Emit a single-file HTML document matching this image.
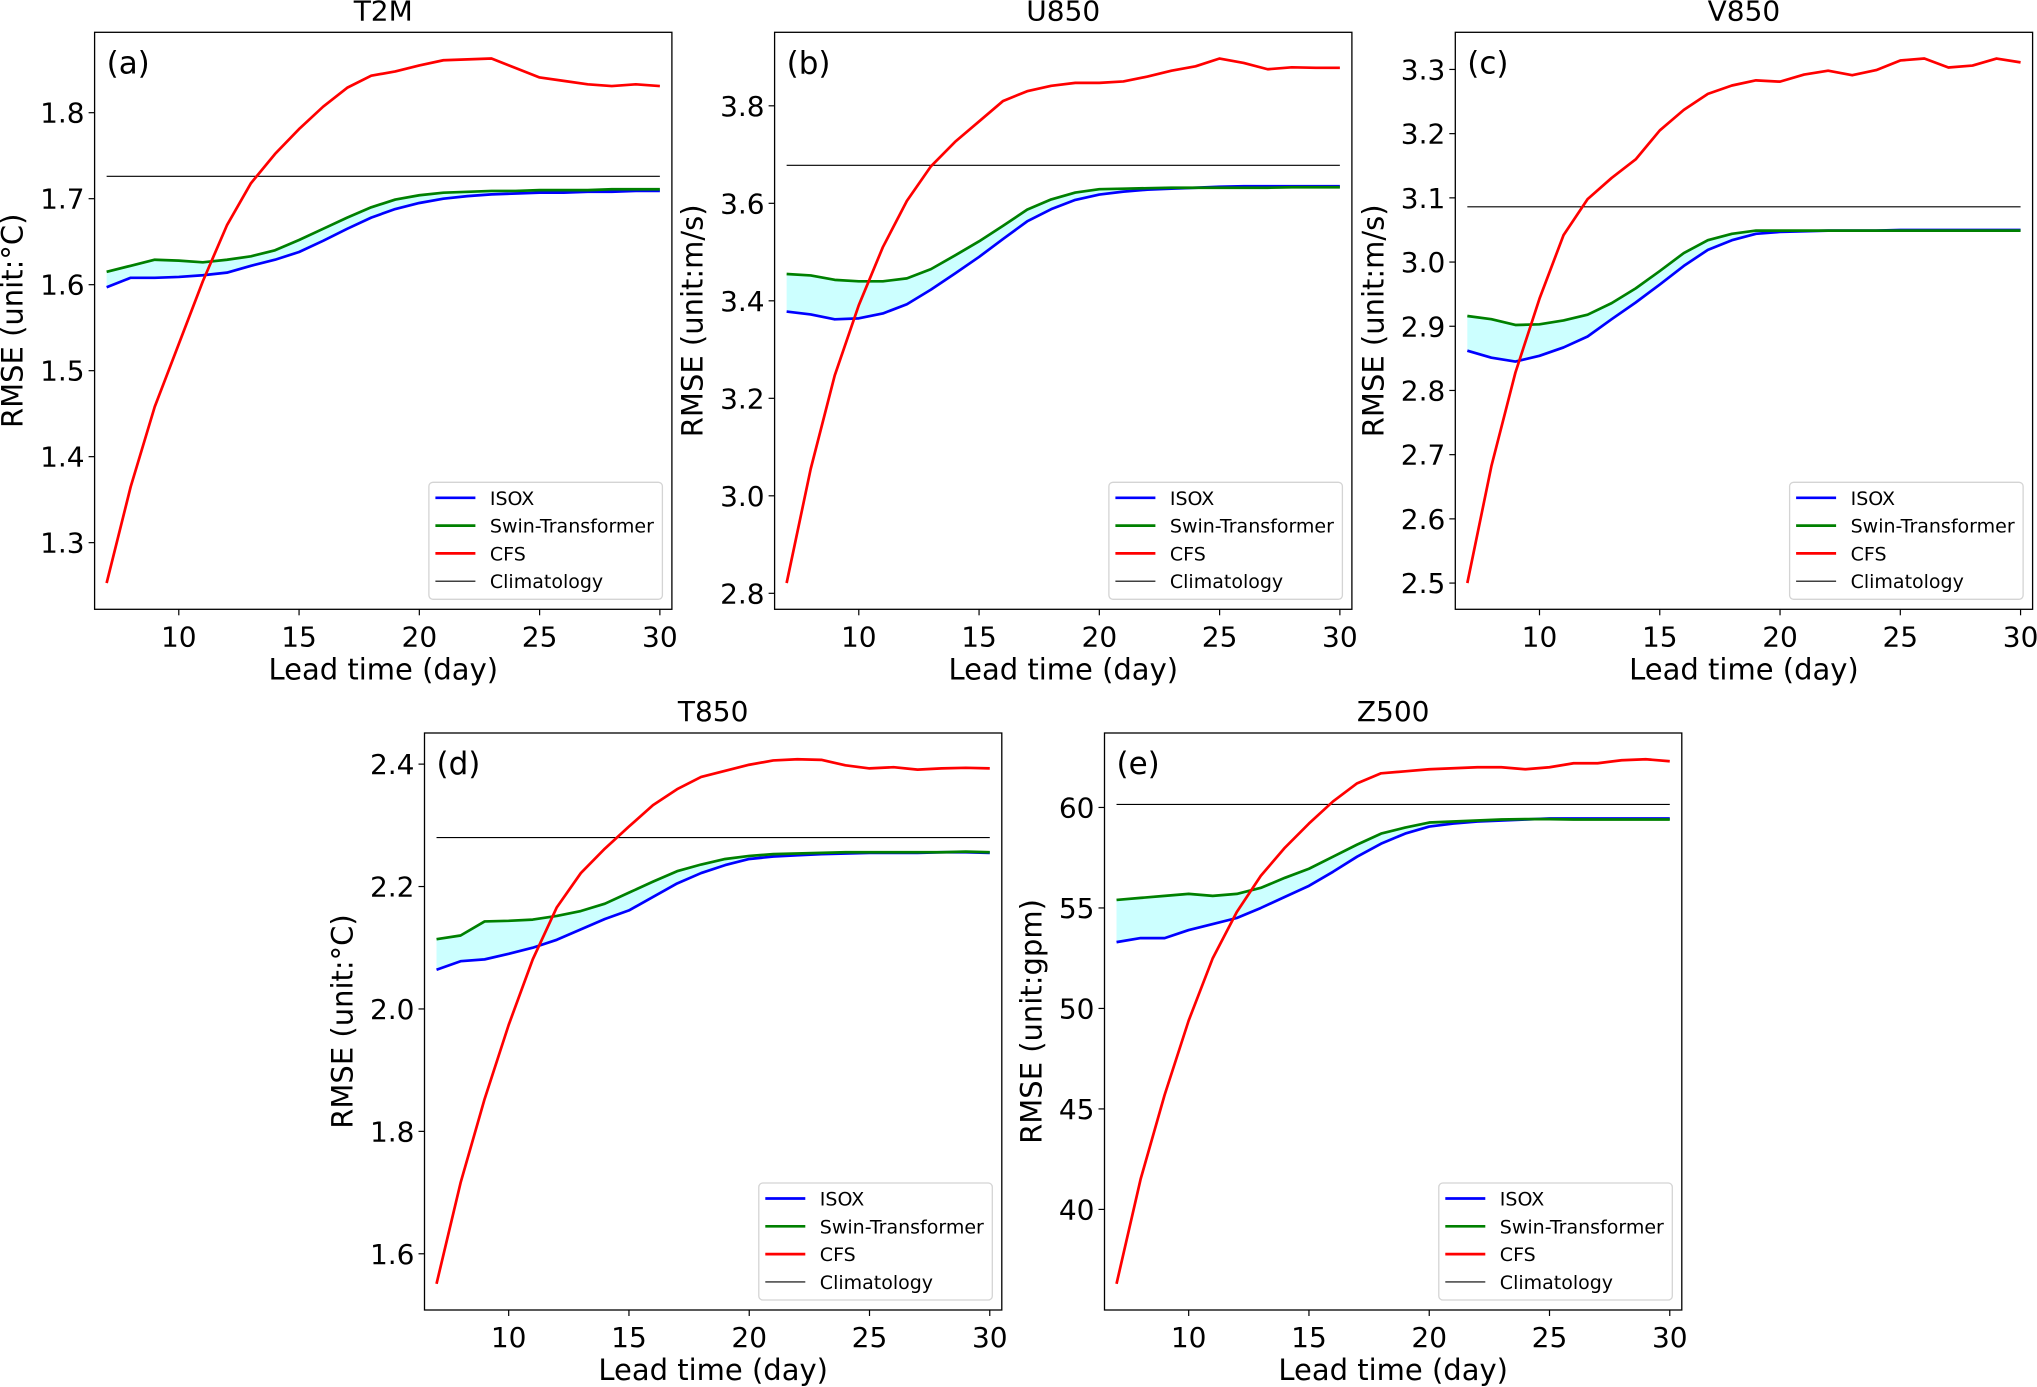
<!DOCTYPE html>
<html><head><meta charset="utf-8">
<style>
html,body{margin:0;padding:0;background:#fff;}
svg{display:block;font-family:"DejaVu Sans","Liberation Sans",sans-serif;}
</style></head>
<body>
<svg id="fig" width="2037" height="1387" viewBox="0 0 2037 1387" xmlns="http://www.w3.org/2000/svg"></svg>
<script>
const days = [7,8,9,10,11,12,13,14,15,16,17,18,19,20,21,22,23,24,25,26,27,28,29,30];
const xTicks = [10,15,20,25,30];
const seriesNames = ["ISOX","Swin-Transformer","CFS","Climatology"];

const t2mIsox = [1.597,1.608,1.608,1.609,1.611,1.614,1.622,1.629,1.638,1.651,1.665,1.678,1.688,1.695,1.700,1.703,1.705,1.706,1.707,1.707,1.708,1.708,1.709,1.709];
const t2mSwin = [1.615,1.622,1.629,1.628,1.626,1.629,1.633,1.640,1.652,1.665,1.678,1.690,1.699,1.704,1.707,1.708,1.709,1.709,1.710,1.710,1.710,1.711,1.711,1.711];
const t2mCfs = [1.253,1.365,1.458,1.531,1.604,1.669,1.718,1.752,1.781,1.807,1.829,1.843,1.848,1.855,1.861,1.862,1.863,1.852,1.841,1.837,1.833,1.831,1.833,1.831];
const t2mClim = 1.726;
const t2mTicks = [1.3,1.4,1.5,1.6,1.7,1.8];

const u850Isox = [3.378,3.372,3.362,3.364,3.374,3.393,3.423,3.456,3.490,3.527,3.563,3.588,3.607,3.618,3.624,3.628,3.630,3.632,3.634,3.635,3.635,3.635,3.635,3.635];
const u850Swin = [3.455,3.452,3.443,3.440,3.440,3.446,3.465,3.493,3.522,3.554,3.587,3.608,3.622,3.629,3.630,3.631,3.632,3.632,3.632,3.632,3.632,3.633,3.633,3.633];
const u850Cfs = [2.821,3.055,3.247,3.391,3.510,3.605,3.676,3.726,3.768,3.810,3.830,3.841,3.847,3.847,3.850,3.860,3.872,3.881,3.897,3.888,3.875,3.879,3.878,3.878];
const u850Clim = 3.678;
const u850Ticks = [2.8,3.0,3.2,3.4,3.6,3.8];

const v850Isox = [2.862,2.851,2.845,2.854,2.867,2.884,2.911,2.937,2.965,2.994,3.019,3.034,3.044,3.047,3.048,3.049,3.049,3.049,3.050,3.050,3.050,3.050,3.050,3.050];
const v850Swin = [2.916,2.911,2.902,2.903,2.909,2.918,2.936,2.959,2.986,3.014,3.034,3.044,3.049,3.049,3.049,3.049,3.049,3.049,3.049,3.049,3.049,3.049,3.049,3.049];
const v850Cfs = [2.500,2.682,2.828,2.943,3.042,3.098,3.131,3.160,3.205,3.237,3.262,3.275,3.283,3.281,3.292,3.298,3.291,3.299,3.314,3.317,3.303,3.306,3.317,3.311];
const v850Clim = 3.086;
const v850Ticks = [2.5,2.6,2.7,2.8,2.9,3.0,3.1,3.2,3.3];

const t850Isox = [2.064,2.078,2.081,2.090,2.100,2.113,2.130,2.147,2.161,2.183,2.205,2.222,2.235,2.245,2.249,2.251,2.253,2.254,2.255,2.255,2.255,2.256,2.256,2.255];
const t850Swin = [2.114,2.120,2.143,2.144,2.146,2.152,2.160,2.172,2.190,2.208,2.225,2.236,2.245,2.250,2.253,2.254,2.255,2.256,2.256,2.256,2.256,2.256,2.257,2.256];
const t850Cfs = [1.551,1.716,1.853,1.974,2.081,2.166,2.222,2.262,2.298,2.333,2.359,2.379,2.389,2.399,2.406,2.408,2.407,2.398,2.393,2.395,2.391,2.393,2.394,2.393];
const t850Clim = 2.280;
const t850Ticks = [1.6,1.8,2.0,2.2,2.4];

const z500Isox = [53.3,53.5,53.5,53.9,54.2,54.5,55.0,55.55,56.1,56.8,57.55,58.2,58.7,59.05,59.2,59.3,59.35,59.4,59.45,59.45,59.45,59.45,59.45,59.45];
const z500Swin = [55.4,55.5,55.6,55.7,55.6,55.7,56.0,56.5,56.95,57.55,58.15,58.7,59.0,59.25,59.3,59.35,59.4,59.42,59.42,59.4,59.4,59.4,59.4,59.4];
const z500Cfs = [36.3,41.5,45.7,49.4,52.5,54.8,56.6,58.0,59.2,60.3,61.2,61.7,61.8,61.9,61.95,62.0,62.0,61.9,62.0,62.2,62.2,62.35,62.4,62.3];
const z500Clim = 60.15;
const z500Ticks = [40,45,50,55,60];

const NS = "http://www.w3.org/2000/svg";
const svg = document.getElementById('fig');
function mk(tag, attrs, parent){
  const e = document.createElementNS(NS, tag);
  for (const k in attrs) e.setAttribute(k, attrs[k]);
  (parent||svg).appendChild(e);
  return e;
}

function panel(cfg){
  const g = mk('g', {});
  
  
  const L = cfg.x, T = cfg.y, W = 577.3, H = 577;
  const all = cfg.isox.concat(cfg.swin, cfg.cfs, [cfg.clim]);
  let mn = Math.min(...all), mx = Math.max(...all);
  const pad = (mx - mn) * 0.05; mn -= pad; mx += pad;
  const xs = d => L + (d - 6.5) / 24 * W;
  const ys = v => T + (mx - v) / (mx - mn) * H;

  let pts = days.map((d,i)=>xs(d)+','+ys(cfg.swin[i]));
  for (let i = days.length-1; i >= 0; i--) pts.push(xs(days[i])+','+ys(cfg.isox[i]));
  const fill = mk('polygon', {points: pts.join(' '), fill:'#ccffff', stroke:'none'}, g);
  
  

  const clim = mk('line', {x1: xs(7), x2: xs(30), y1: ys(cfg.clim), y2: ys(cfg.clim), stroke:'#000', 'stroke-width':1.1}, g);
  
  

  const lines = [[cfg.isox,'#0000ff','isox'],[cfg.swin,'#008000','swin-transformer'],[cfg.cfs,'#ff0000','cfs']];
  lines.forEach(([arr,col,nm])=>{
    const p = mk('polyline', {points: days.map((d,i)=>xs(d)+','+ys(arr[i])).join(' '), fill:'none', stroke:col, 'stroke-width':2.7, 'stroke-linejoin':'round'}, g);
    
    
  });

  const frame = mk('rect', {x:L, y:T, width:W, height:H, fill:'none', stroke:'#000', 'stroke-width':1.3}, g);
  
  

  xTicks.forEach(t=>{
    mk('line', {x1: xs(t), x2: xs(t), y1: T+H, y2: T+H+6, stroke:'#000', 'stroke-width':1.2}, g);
    const tx = mk('text', {x: xs(t), y: T+H+37, 'font-size':28, 'text-anchor':'middle'}, g);
    tx.textContent = t;
    
    
  });
  cfg.ticks.forEach(t=>{
    mk('line', {x1: L-6, x2: L, y1: ys(t), y2: ys(t), stroke:'#000', 'stroke-width':1.2}, g);
    const tx = mk('text', {x: L-10, y: ys(t)+10, 'font-size':28, 'text-anchor':'end'}, g);
    tx.textContent = cfg.dec ? t.toFixed(1) : t;
    
    
  });

  const title = mk('text', {x: L+W/2, y: T-12, 'font-size':28, 'text-anchor':'middle'}, g);
  title.textContent = cfg.title;
  
  

  const xl = mk('text', {x: L+W/2, y: T+H+70, 'font-size':29, 'text-anchor':'middle'}, g);
  xl.textContent = 'Lead time (day)';
  
  

  const yx = L - cfg.yoff, yy = T + H/2;
  const yl = mk('text', {x: yx, y: yy, 'font-size':29, 'text-anchor':'middle', transform:'rotate(-90 '+yx+' '+yy+')'}, g);
  yl.textContent = cfg.ylabel;
  
  

  const lab = mk('text', {x: L+12, y: T+41, 'font-size':31}, g);
  lab.textContent = cfg.label;
  
  

  const lg = mk('g', {}, g);
  
  
  const lx = L+W-243, ly = T+H-127;
  mk('rect', {x: lx, y: ly, width: 233.5, height: 117, rx: 4, fill:'rgba(255,255,255,0.8)', stroke:'#d4d4d4', 'stroke-width':1.3}, lg);
  const cols = ['#0000ff','#008000','#ff0000','#000'];
  seriesNames.forEach((n,i)=>{
    const ry = ly + 15.5 + i*27.8;
    const ent = mk('g', {}, lg);
    
    
    mk('line', {x1: lx+6.5, x2: lx+46.5, y1: ry, y2: ry, stroke: cols[i], 'stroke-width': i===3?1.1:2.7}, ent);
    const t = mk('text', {x: lx+61, y: ry+7, 'font-size':19}, ent);
    t.textContent = n;
  });
}

panel({key:'t2m', x:94.6, y:32.3, isox:t2mIsox, swin:t2mSwin, cfs:t2mCfs, clim:t2mClim, ticks:t2mTicks, dec:true, title:'T2M', label:'(a)', ylabel:'RMSE (unit:\u00B0C)', yoff:72});
panel({key:'u850', x:774.6, y:32.3, isox:u850Isox, swin:u850Swin, cfs:u850Cfs, clim:u850Clim, ticks:u850Ticks, dec:true, title:'U850', label:'(b)', ylabel:'RMSE (unit:m/s)', yoff:72});
panel({key:'v850', x:1455.3, y:32.3, isox:v850Isox, swin:v850Swin, cfs:v850Cfs, clim:v850Clim, ticks:v850Ticks, dec:true, title:'V850', label:'(c)', ylabel:'RMSE (unit:m/s)', yoff:72});
panel({key:'t850', x:424.5, y:733, isox:t850Isox, swin:t850Swin, cfs:t850Cfs, clim:t850Clim, ticks:t850Ticks, dec:true, title:'T850', label:'(d)', ylabel:'RMSE (unit:\u00B0C)', yoff:72});
panel({key:'z500', x:1104.5, y:733, isox:z500Isox, swin:z500Swin, cfs:z500Cfs, clim:z500Clim, ticks:z500Ticks, dec:false, title:'Z500', label:'(e)', ylabel:'RMSE (unit:gpm)', yoff:63});
</script>
</body></html>
